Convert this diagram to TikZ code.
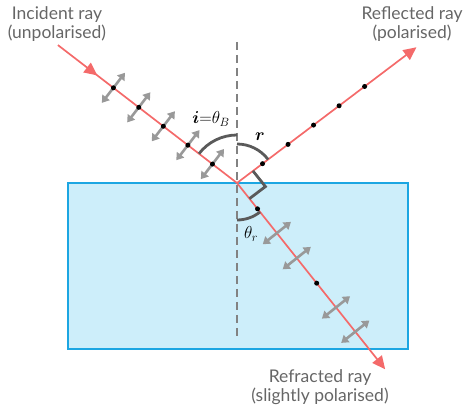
\documentclass[tikz,border=0pt]{standalone}
\usepackage{amsmath}
\usepackage{fontspec}
\setmainfont{Lato}
\usetikzlibrary{arrows.meta,calc,decorations.markings}

\definecolor{raycol}{HTML}{F46A6A}
\definecolor{glass}{HTML}{CDEEFA}
\definecolor{glassline}{HTML}{1CA6E2}
\definecolor{vibcol}{HTML}{999999}
\definecolor{anglecol}{HTML}{5A5A5A}
\definecolor{txtcol}{HTML}{666666}

\tikzset{
  ray/.style={draw=raycol, line width=1.7pt},
  raytip/.style={-{Triangle[length=13pt,width=12pt]}},
  midtip/.style={postaction={decorate, decoration={markings,
      mark=at position 0.22 with {\arrow[raycol]{Triangle[length=13pt,width=12pt]}}}}},
  vib/.style={draw=vibcol, line width=2.6pt,
    {Triangle[length=7pt,width=9pt]}-{Triangle[length=7pt,width=9pt]}},
  dotmark/.style={circle, fill=black, inner sep=0pt, minimum size=5pt},
  anglearc/.style={draw=anglecol, line width=2.8pt},
  caption/.style={text=txtcol, align=center, font=\fontsize{17.5}{19}\selectfont},
  anglelbl/.style={font=\fontsize{17}{19}\selectfont, inner sep=0pt},
}

\begin{document}
\begin{tikzpicture}[x=1pt,y=1pt]
  \useasboundingbox (0,0) rectangle (468,414);

  % glass block and normal
  \fill[glass] (68,65) rectangle (408,231);
  \draw[glassline, line width=1.6pt] (68,65) rectangle (408,231);
  \coordinate (O) at (237,231);
  \coordinate (nTop) at (237,372);
  \coordinate (nBot) at (237,76);
  \draw[vibcol!85!black, line width=1.6pt, dash pattern=on 8pt off 5pt] (nTop) -- (nBot);

  % rays
  \coordinate (inc) at ($(O)+(142.4:226)$);
  \coordinate (refl) at ($(O)+(37.1:225)$);
  \coordinate (refr) at ($(O)+(-51.5:238)$);
  \draw[ray, midtip] (inc) -- (O);
  \draw[ray, raytip] (O) -- (refl);
  \draw[ray, raytip] (O) -- (refr);

  % angles
  \draw[anglearc] ($(O)+(90:48)$) arc[start angle=90, end angle=142.4, radius=48];
  \draw[anglearc] ($(O)+(37.1:39)$) arc[start angle=37.1, end angle=90, radius=39];
  \draw[anglearc] ($(O)+(270:37)$) arc[start angle=270, end angle=308.5, radius=37];
  \draw[anglearc] ($(O)+(37.1:20)$) -- ($(O)+(37.1:20)+(-51.5:20)$) -- ($(O)+(-51.5:20)$);

  % polarisation marks
  \foreach \d in {31,62,93,124,156} {
    \draw[vib] ($(O)+(142.4:\d)+(232.4:19)$) -- ($(O)+(142.4:\d)+(52.4:19)$);
    \node[dotmark] (i\d) at ($(O)+(142.4:\d)$) {};
  }
  \foreach \d in {32,64,96,128,160}
    \node[dotmark] (r\d) at ($(O)+(37.1:\d)$) {};
  \foreach \d in {64,96,159,190}
    \draw[vib] ($(O)+(-51.5:\d)+(218.5:18)$) -- ($(O)+(-51.5:\d)+(38.5:18)$);
  \foreach \d in {33,128}
    \node[dotmark] (t\d) at ($(O)+(-51.5:\d)$) {};

  % labels
  \node[caption] (incTxt) at (57,390) {Incident ray\\(unpolarised)};
  \node[caption] (reflTxt) at (412,390) {Reflected ray\\(polarised)};
  \node[caption] (refrTxt) at (320,27) {Refracted ray\\(slightly polarised)};
  \node[anglelbl] (iLbl) at (211,295) {$\boldsymbol{i}{=}\theta_{B}$};
  \node[anglelbl] (rLbl) at (260,277) {$\boldsymbol{r}$};
  \node[anglelbl] (thLbl) at (251,180) {$\theta_{r}$};
\end{tikzpicture}
\end{document}
